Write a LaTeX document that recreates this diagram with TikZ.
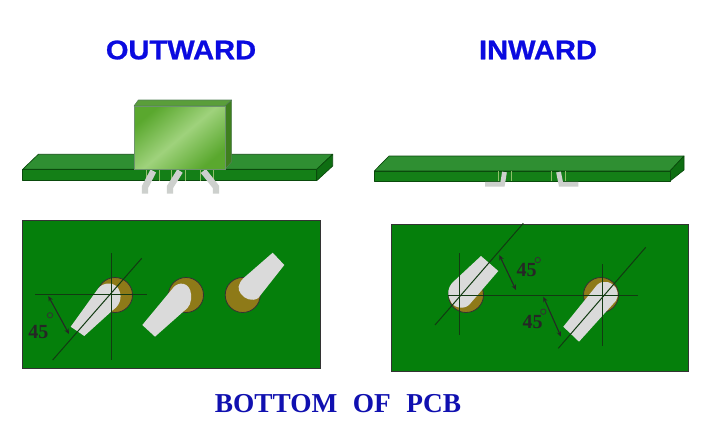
\documentclass[tikz,border=0pt]{standalone}
\usepackage{fontspec}
\usetikzlibrary{arrows.meta}
\setmainfont{Liberation Serif}
\newfontfamily\arialf[FakeStretch=1.08,BoldFeatures={FakeBold=0.8}]{Liberation Sans}
\definecolor{boardgreen}{HTML}{057F0B}
\definecolor{boardtop}{HTML}{2F8F32}
\definecolor{boardfront}{HTML}{147F17}
\definecolor{boardside}{HTML}{0E6E12}
\definecolor{boardline}{HTML}{0A4A0C}
\definecolor{padgold}{HTML}{8E7A18}
\definecolor{leadgray}{HTML}{DADADA}
\definecolor{pingray}{HTML}{CDD0CD}
\definecolor{slotpale}{HTML}{8FBF6A}
\definecolor{titleblue}{HTML}{0A0AE0}
\definecolor{captionblue}{HTML}{1010B0}
\definecolor{axiscol}{HTML}{123A12}
\definecolor{compdark}{HTML}{5AA82E}
\definecolor{complight}{HTML}{9FD27C}
\definecolor{comptop}{HTML}{5A9E3A}
\definecolor{compside}{HTML}{3F7F1E}
\tikzset{
  x=0.75pt,y=-0.75pt,
  boardt/.style={fill=boardtop,draw=boardline,line width=0.5pt,line join=round},
  boardf/.style={fill=boardfront,draw=boardline,line width=0.5pt,line join=round},
  boards/.style={fill=boardside,draw=boardline,line width=0.5pt,line join=round},
  panelbox/.style={fill=boardgreen,draw=black!80,line width=0.6pt},
  padring/.style={fill=padgold,draw=black!80,line width=0.6pt},
  leadshape/.style={fill=leadgray,draw=none},
  pinline/.style={draw=pingray,line width=4.8pt,line join=miter},
  slotline/.style={draw=slotpale,line width=0.6pt},
  axisline/.style={draw=axiscol,line width=0.75pt},
  dimline/.style={draw=black!85,line width=0.8pt,{Stealth[length=4pt,width=3.4pt]}-{Stealth[length=4pt,width=3.4pt]}},
  titletext/.style={font=\arialf\bfseries\fontsize{20.2}{24}\selectfont,text=titleblue,inner sep=0pt},
  captiontext/.style={font=\bfseries\fontsize{20.5}{24}\selectfont,text=captionblue,inner sep=0pt},
  angletext/.style={font=\bfseries\fontsize{15}{17}\selectfont,text=black!85,inner sep=0pt},
  degmark/.style={draw=black!80,line width=0.6pt,fill=none}
}
\begin{document}
\begin{tikzpicture}
\useasboundingbox (0,0) rectangle (707,432);
\fill[white] (0,0) rectangle (707,432);
% titles
\node[titletext] (tout) at (181,50) {OUTWARD};
\node[titletext] (tin) at (538,50) {INWARD};
\node[captiontext] (cap) at (338,404) {BOTTOM\hspace{11.6pt}OF\hspace{11.6pt}PCB};
% outward board
\path[boardt] (22.7,169.3) -- (38.3,154.3) -- (332.7,154.3) -- (316.7,169.3) -- cycle;
\path[boards] (316.7,169.3) -- (332.7,154.3) -- (332.7,166) -- (316.7,180.7) -- cycle;
\path[boardf] (22.7,169.3) rectangle (316.7,180.7);
% slots
\foreach \a/\b in {146.7/159,171.7/185.7,200/213}{
  \draw[slotline] (\a,170) -- (\a,180.5);
  \draw[slotline] (\b,170) -- (\b,180.5);
}
% pins
\draw[pinline] (153.3,171) -- (145,187) -- (145,193.5);
\draw[pinline] (180,171) -- (170,187) -- (170,193.5);
\draw[pinline] (203.3,171) -- (216,187) -- (216,193.5);
% component
\path[fill=comptop,draw=boardline!70,line width=0.4pt,line join=round] (134,106) -- (138.3,100) -- (231.7,100) -- (225,106) -- cycle;
\path[fill=compside,draw=boardline!70,line width=0.4pt,line join=round] (225,106) -- (231.7,100) -- (231.7,161.7) -- (225,169.3) -- cycle;
\path[top color=compdark,bottom color=compdark,middle color=complight,shading angle=40,draw=boardline!60,line width=0.4pt] (134,106) rectangle (225,169.3);
% inward board
\path[boardt] (374.3,171) -- (389,156) -- (684,156) -- (670,171) -- cycle;
\path[boards] (670,171) -- (684,156) -- (684,170) -- (670,181) -- cycle;
\path[boardf] (374.3,171) rectangle (670,181);
\draw[slotline] (498.3,171) -- (498.3,181);
\draw[slotline] (511,171) -- (511,181);
\draw[slotline] (551.7,171) -- (551.7,181);
\draw[slotline] (565,171) -- (565,181);
\draw[pinline,line width=3.6pt] (504.5,172) -- (502.5,184.3) -- (485,184.3);
\draw[pinline,line width=3.6pt] (558.5,172) -- (561,184.3) -- (578.3,184.3);
% left panel
\path[panelbox] (22.7,220) rectangle (320,368.3);
\path[padring] (115,295) circle[radius=17.5];
\path[padring] (186,295) circle[radius=17.5];
\path[padring] (242.7,295) circle[radius=17.5];
\path[leadshape] (70.7,326.7) -- (98.3,288.3) .. controls (102,283) and (113,281) .. (118,288) .. controls (122,294) and (122,304) .. (113,310) -- (84.3,336) -- cycle;
\path[leadshape] (142.3,325) -- (173,288) .. controls (178,281) and (190,282) .. (191,294) .. controls (192,302) and (189,308) .. (184,311) -- (155,336.7) -- cycle;
\path[leadshape] (272.7,252.7) -- (284.3,265) -- (258.3,298) .. controls (252,302) and (245,299) .. (241,294) .. controls (237,289) and (238,284) .. (243.3,278.3) -- cycle;
\draw[axisline] (111.5,253.3) -- (111.5,360);
\draw[axisline] (35,294.5) -- (147.3,294.5);
\draw[axisline] (52.7,360) -- (141.7,258.3);
\draw[dimline] (48.3,296) -- (69,334);
\node[angletext] (a1) at (38.3,331.7) {45};
\draw[degmark] (50,315.3) circle[radius=2.7];
% right panel
\path[panelbox] (391.7,224) rectangle (688.3,371);
\path[padring] (466,295) circle[radius=17.5];
\path[padring] (601,295) circle[radius=17.5];
\path[leadshape] (481,256) -- (498.3,271) -- (469,305) .. controls (463,310) and (453,308) .. (450,300) .. controls (447,293) and (448,288) .. (452,283) -- cycle;
\path[leadshape] (563.3,326.7) -- (597,285) .. controls (603,279) and (612,282) .. (616,288) .. controls (619,294) and (618,300) .. (613,304) -- (579,341.7) -- cycle;
\draw[axisline] (459.3,253.3) -- (459.3,335);
\draw[axisline] (448.3,295) -- (638.3,295);
\draw[axisline] (602.7,264.3) -- (602.7,345.7);
\draw[axisline] (435,325) -- (523.3,223.3);
\draw[axisline] (558.3,348.3) -- (645.7,247.3);
\draw[dimline] (499.3,255) -- (516,290);
\draw[dimline] (543.3,296.7) -- (561,336.7);
\node[angletext] (a2) at (526.7,270) {45};
\draw[degmark] (537.7,260) circle[radius=2.7];
\node[angletext] (a3) at (532.7,322.3) {45};
\draw[degmark] (543.3,311.7) circle[radius=2.7];
\end{tikzpicture}
\end{document}
